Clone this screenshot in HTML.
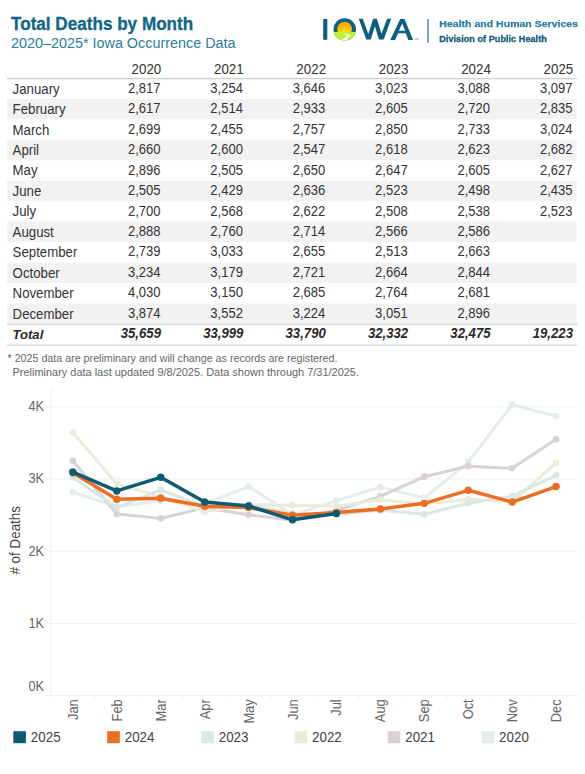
<!DOCTYPE html><html><head><meta charset="utf-8"><style>*{margin:0;padding:0}html,body{width:585px;height:774px;overflow:hidden;background:#fff}svg{display:block}</style></head><body><svg width="585" height="774" viewBox="0 0 585 774" font-family="'Liberation Sans', sans-serif">
<rect width="585" height="774" fill="#fff"/>
<text x="11.00" y="29.80" font-size="18.00" fill="#0f6587" font-weight="bold" textLength="182.20" lengthAdjust="spacingAndGlyphs" stroke="#0f6587" stroke-width="0.3">Total Deaths by Month</text>
<text x="11.00" y="47.60" font-size="14.00" fill="#2a7d9b" textLength="224.50" lengthAdjust="spacingAndGlyphs">2020–2025* Iowa Occurrence Data</text>
<rect x="7" y="98.96" width="570" height="20.46" fill="#f2f2f2"/>
<rect x="7" y="139.88" width="570" height="20.46" fill="#f2f2f2"/>
<rect x="7" y="180.80" width="570" height="20.46" fill="#f2f2f2"/>
<rect x="7" y="221.72" width="570" height="20.46" fill="#f2f2f2"/>
<rect x="7" y="262.64" width="570" height="20.46" fill="#f2f2f2"/>
<rect x="7" y="303.56" width="570" height="20.46" fill="#f2f2f2"/>
<text x="161.30" y="73.80" font-size="14.00" fill="#333" text-anchor="end" textLength="29.74" lengthAdjust="spacingAndGlyphs">2020</text>
<text x="243.70" y="73.80" font-size="14.00" fill="#333" text-anchor="end" textLength="29.74" lengthAdjust="spacingAndGlyphs">2021</text>
<text x="326.10" y="73.80" font-size="14.00" fill="#333" text-anchor="end" textLength="29.74" lengthAdjust="spacingAndGlyphs">2022</text>
<text x="408.50" y="73.80" font-size="14.00" fill="#333" text-anchor="end" textLength="29.74" lengthAdjust="spacingAndGlyphs">2023</text>
<text x="490.90" y="73.80" font-size="14.00" fill="#333" text-anchor="end" textLength="29.74" lengthAdjust="spacingAndGlyphs">2024</text>
<text x="573.30" y="73.80" font-size="14.00" fill="#333" text-anchor="end" textLength="29.74" lengthAdjust="spacingAndGlyphs">2025</text>
<rect x="7" y="77.9" width="570.5" height="1.4" fill="#d2d2d2"/>
<text x="12.60" y="93.60" font-size="14.00" fill="#333" textLength="47.07" lengthAdjust="spacingAndGlyphs">January</text>
<text x="160.50" y="92.80" font-size="14.50" fill="#333" text-anchor="end" textLength="32.58" lengthAdjust="spacingAndGlyphs">2,817</text>
<text x="242.90" y="92.80" font-size="14.50" fill="#333" text-anchor="end" textLength="32.58" lengthAdjust="spacingAndGlyphs">3,254</text>
<text x="325.30" y="92.80" font-size="14.50" fill="#333" text-anchor="end" textLength="32.58" lengthAdjust="spacingAndGlyphs">3,646</text>
<text x="407.70" y="92.80" font-size="14.50" fill="#333" text-anchor="end" textLength="32.58" lengthAdjust="spacingAndGlyphs">3,023</text>
<text x="490.10" y="92.80" font-size="14.50" fill="#333" text-anchor="end" textLength="32.58" lengthAdjust="spacingAndGlyphs">3,088</text>
<text x="572.50" y="92.80" font-size="14.50" fill="#333" text-anchor="end" textLength="32.58" lengthAdjust="spacingAndGlyphs">3,097</text>
<text x="12.60" y="114.06" font-size="14.00" fill="#333" textLength="52.94" lengthAdjust="spacingAndGlyphs">February</text>
<text x="160.50" y="113.26" font-size="14.50" fill="#333" text-anchor="end" textLength="32.58" lengthAdjust="spacingAndGlyphs">2,617</text>
<text x="242.90" y="113.26" font-size="14.50" fill="#333" text-anchor="end" textLength="32.58" lengthAdjust="spacingAndGlyphs">2,514</text>
<text x="325.30" y="113.26" font-size="14.50" fill="#333" text-anchor="end" textLength="32.58" lengthAdjust="spacingAndGlyphs">2,933</text>
<text x="407.70" y="113.26" font-size="14.50" fill="#333" text-anchor="end" textLength="32.58" lengthAdjust="spacingAndGlyphs">2,605</text>
<text x="490.10" y="113.26" font-size="14.50" fill="#333" text-anchor="end" textLength="32.58" lengthAdjust="spacingAndGlyphs">2,720</text>
<text x="572.50" y="113.26" font-size="14.50" fill="#333" text-anchor="end" textLength="32.58" lengthAdjust="spacingAndGlyphs">2,835</text>
<text x="12.60" y="134.52" font-size="14.00" fill="#333" textLength="36.76" lengthAdjust="spacingAndGlyphs">March</text>
<text x="160.50" y="133.72" font-size="14.50" fill="#333" text-anchor="end" textLength="32.58" lengthAdjust="spacingAndGlyphs">2,699</text>
<text x="242.90" y="133.72" font-size="14.50" fill="#333" text-anchor="end" textLength="32.58" lengthAdjust="spacingAndGlyphs">2,455</text>
<text x="325.30" y="133.72" font-size="14.50" fill="#333" text-anchor="end" textLength="32.58" lengthAdjust="spacingAndGlyphs">2,757</text>
<text x="407.70" y="133.72" font-size="14.50" fill="#333" text-anchor="end" textLength="32.58" lengthAdjust="spacingAndGlyphs">2,850</text>
<text x="490.10" y="133.72" font-size="14.50" fill="#333" text-anchor="end" textLength="32.58" lengthAdjust="spacingAndGlyphs">2,733</text>
<text x="572.50" y="133.72" font-size="14.50" fill="#333" text-anchor="end" textLength="32.58" lengthAdjust="spacingAndGlyphs">3,024</text>
<text x="12.60" y="154.98" font-size="14.00" fill="#333" textLength="26.47" lengthAdjust="spacingAndGlyphs">April</text>
<text x="160.50" y="154.18" font-size="14.50" fill="#333" text-anchor="end" textLength="32.58" lengthAdjust="spacingAndGlyphs">2,660</text>
<text x="242.90" y="154.18" font-size="14.50" fill="#333" text-anchor="end" textLength="32.58" lengthAdjust="spacingAndGlyphs">2,600</text>
<text x="325.30" y="154.18" font-size="14.50" fill="#333" text-anchor="end" textLength="32.58" lengthAdjust="spacingAndGlyphs">2,547</text>
<text x="407.70" y="154.18" font-size="14.50" fill="#333" text-anchor="end" textLength="32.58" lengthAdjust="spacingAndGlyphs">2,618</text>
<text x="490.10" y="154.18" font-size="14.50" fill="#333" text-anchor="end" textLength="32.58" lengthAdjust="spacingAndGlyphs">2,623</text>
<text x="572.50" y="154.18" font-size="14.50" fill="#333" text-anchor="end" textLength="32.58" lengthAdjust="spacingAndGlyphs">2,682</text>
<text x="12.60" y="175.44" font-size="14.00" fill="#333" textLength="24.99" lengthAdjust="spacingAndGlyphs">May</text>
<text x="160.50" y="174.64" font-size="14.50" fill="#333" text-anchor="end" textLength="32.58" lengthAdjust="spacingAndGlyphs">2,896</text>
<text x="242.90" y="174.64" font-size="14.50" fill="#333" text-anchor="end" textLength="32.58" lengthAdjust="spacingAndGlyphs">2,505</text>
<text x="325.30" y="174.64" font-size="14.50" fill="#333" text-anchor="end" textLength="32.58" lengthAdjust="spacingAndGlyphs">2,650</text>
<text x="407.70" y="174.64" font-size="14.50" fill="#333" text-anchor="end" textLength="32.58" lengthAdjust="spacingAndGlyphs">2,647</text>
<text x="490.10" y="174.64" font-size="14.50" fill="#333" text-anchor="end" textLength="32.58" lengthAdjust="spacingAndGlyphs">2,605</text>
<text x="572.50" y="174.64" font-size="14.50" fill="#333" text-anchor="end" textLength="32.58" lengthAdjust="spacingAndGlyphs">2,627</text>
<text x="12.60" y="195.90" font-size="14.00" fill="#333" textLength="28.69" lengthAdjust="spacingAndGlyphs">June</text>
<text x="160.50" y="195.10" font-size="14.50" fill="#333" text-anchor="end" textLength="32.58" lengthAdjust="spacingAndGlyphs">2,505</text>
<text x="242.90" y="195.10" font-size="14.50" fill="#333" text-anchor="end" textLength="32.58" lengthAdjust="spacingAndGlyphs">2,429</text>
<text x="325.30" y="195.10" font-size="14.50" fill="#333" text-anchor="end" textLength="32.58" lengthAdjust="spacingAndGlyphs">2,636</text>
<text x="407.70" y="195.10" font-size="14.50" fill="#333" text-anchor="end" textLength="32.58" lengthAdjust="spacingAndGlyphs">2,523</text>
<text x="490.10" y="195.10" font-size="14.50" fill="#333" text-anchor="end" textLength="32.58" lengthAdjust="spacingAndGlyphs">2,498</text>
<text x="572.50" y="195.10" font-size="14.50" fill="#333" text-anchor="end" textLength="32.58" lengthAdjust="spacingAndGlyphs">2,435</text>
<text x="12.60" y="216.36" font-size="14.00" fill="#333" textLength="23.53" lengthAdjust="spacingAndGlyphs">July</text>
<text x="160.50" y="215.56" font-size="14.50" fill="#333" text-anchor="end" textLength="32.58" lengthAdjust="spacingAndGlyphs">2,700</text>
<text x="242.90" y="215.56" font-size="14.50" fill="#333" text-anchor="end" textLength="32.58" lengthAdjust="spacingAndGlyphs">2,568</text>
<text x="325.30" y="215.56" font-size="14.50" fill="#333" text-anchor="end" textLength="32.58" lengthAdjust="spacingAndGlyphs">2,622</text>
<text x="407.70" y="215.56" font-size="14.50" fill="#333" text-anchor="end" textLength="32.58" lengthAdjust="spacingAndGlyphs">2,508</text>
<text x="490.10" y="215.56" font-size="14.50" fill="#333" text-anchor="end" textLength="32.58" lengthAdjust="spacingAndGlyphs">2,538</text>
<text x="572.50" y="215.56" font-size="14.50" fill="#333" text-anchor="end" textLength="32.58" lengthAdjust="spacingAndGlyphs">2,523</text>
<text x="12.60" y="236.82" font-size="14.00" fill="#333" textLength="41.19" lengthAdjust="spacingAndGlyphs">August</text>
<text x="160.50" y="236.02" font-size="14.50" fill="#333" text-anchor="end" textLength="32.58" lengthAdjust="spacingAndGlyphs">2,888</text>
<text x="242.90" y="236.02" font-size="14.50" fill="#333" text-anchor="end" textLength="32.58" lengthAdjust="spacingAndGlyphs">2,760</text>
<text x="325.30" y="236.02" font-size="14.50" fill="#333" text-anchor="end" textLength="32.58" lengthAdjust="spacingAndGlyphs">2,714</text>
<text x="407.70" y="236.02" font-size="14.50" fill="#333" text-anchor="end" textLength="32.58" lengthAdjust="spacingAndGlyphs">2,566</text>
<text x="490.10" y="236.02" font-size="14.50" fill="#333" text-anchor="end" textLength="32.58" lengthAdjust="spacingAndGlyphs">2,586</text>
<text x="12.60" y="257.28" font-size="14.00" fill="#333" textLength="64.72" lengthAdjust="spacingAndGlyphs">September</text>
<text x="160.50" y="256.48" font-size="14.50" fill="#333" text-anchor="end" textLength="32.58" lengthAdjust="spacingAndGlyphs">2,739</text>
<text x="242.90" y="256.48" font-size="14.50" fill="#333" text-anchor="end" textLength="32.58" lengthAdjust="spacingAndGlyphs">3,033</text>
<text x="325.30" y="256.48" font-size="14.50" fill="#333" text-anchor="end" textLength="32.58" lengthAdjust="spacingAndGlyphs">2,655</text>
<text x="407.70" y="256.48" font-size="14.50" fill="#333" text-anchor="end" textLength="32.58" lengthAdjust="spacingAndGlyphs">2,513</text>
<text x="490.10" y="256.48" font-size="14.50" fill="#333" text-anchor="end" textLength="32.58" lengthAdjust="spacingAndGlyphs">2,663</text>
<text x="12.60" y="277.74" font-size="14.00" fill="#333" textLength="47.06" lengthAdjust="spacingAndGlyphs">October</text>
<text x="160.50" y="276.94" font-size="14.50" fill="#333" text-anchor="end" textLength="32.58" lengthAdjust="spacingAndGlyphs">3,234</text>
<text x="242.90" y="276.94" font-size="14.50" fill="#333" text-anchor="end" textLength="32.58" lengthAdjust="spacingAndGlyphs">3,179</text>
<text x="325.30" y="276.94" font-size="14.50" fill="#333" text-anchor="end" textLength="32.58" lengthAdjust="spacingAndGlyphs">2,721</text>
<text x="407.70" y="276.94" font-size="14.50" fill="#333" text-anchor="end" textLength="32.58" lengthAdjust="spacingAndGlyphs">2,664</text>
<text x="490.10" y="276.94" font-size="14.50" fill="#333" text-anchor="end" textLength="32.58" lengthAdjust="spacingAndGlyphs">2,844</text>
<text x="12.60" y="298.20" font-size="14.00" fill="#333" textLength="61.03" lengthAdjust="spacingAndGlyphs">November</text>
<text x="160.50" y="297.40" font-size="14.50" fill="#333" text-anchor="end" textLength="32.58" lengthAdjust="spacingAndGlyphs">4,030</text>
<text x="242.90" y="297.40" font-size="14.50" fill="#333" text-anchor="end" textLength="32.58" lengthAdjust="spacingAndGlyphs">3,150</text>
<text x="325.30" y="297.40" font-size="14.50" fill="#333" text-anchor="end" textLength="32.58" lengthAdjust="spacingAndGlyphs">2,685</text>
<text x="407.70" y="297.40" font-size="14.50" fill="#333" text-anchor="end" textLength="32.58" lengthAdjust="spacingAndGlyphs">2,764</text>
<text x="490.10" y="297.40" font-size="14.50" fill="#333" text-anchor="end" textLength="32.58" lengthAdjust="spacingAndGlyphs">2,681</text>
<text x="12.60" y="318.66" font-size="14.00" fill="#333" textLength="61.03" lengthAdjust="spacingAndGlyphs">December</text>
<text x="160.50" y="317.86" font-size="14.50" fill="#333" text-anchor="end" textLength="32.58" lengthAdjust="spacingAndGlyphs">3,874</text>
<text x="242.90" y="317.86" font-size="14.50" fill="#333" text-anchor="end" textLength="32.58" lengthAdjust="spacingAndGlyphs">3,552</text>
<text x="325.30" y="317.86" font-size="14.50" fill="#333" text-anchor="end" textLength="32.58" lengthAdjust="spacingAndGlyphs">3,224</text>
<text x="407.70" y="317.86" font-size="14.50" fill="#333" text-anchor="end" textLength="32.58" lengthAdjust="spacingAndGlyphs">3,051</text>
<text x="490.10" y="317.86" font-size="14.50" fill="#333" text-anchor="end" textLength="32.58" lengthAdjust="spacingAndGlyphs">2,896</text>
<rect x="7" y="323.9" width="570.5" height="1.3" fill="#d8d8d8"/>
<rect x="7" y="344.6" width="570.5" height="1.3" fill="#d8d8d8"/>
<text x="12.50" y="338.60" font-size="13.50" fill="#2a2a2a" font-weight="bold" font-style="italic" textLength="30.79" lengthAdjust="spacingAndGlyphs">Total</text>
<text x="161.00" y="338.30" font-size="14.20" fill="#2a2a2a" font-weight="bold" font-style="italic" text-anchor="end" textLength="40.26" lengthAdjust="spacingAndGlyphs">35,659</text>
<text x="243.40" y="338.30" font-size="14.20" fill="#2a2a2a" font-weight="bold" font-style="italic" text-anchor="end" textLength="40.26" lengthAdjust="spacingAndGlyphs">33,999</text>
<text x="325.80" y="338.30" font-size="14.20" fill="#2a2a2a" font-weight="bold" font-style="italic" text-anchor="end" textLength="40.26" lengthAdjust="spacingAndGlyphs">33,790</text>
<text x="408.20" y="338.30" font-size="14.20" fill="#2a2a2a" font-weight="bold" font-style="italic" text-anchor="end" textLength="40.26" lengthAdjust="spacingAndGlyphs">32,332</text>
<text x="490.60" y="338.30" font-size="14.20" fill="#2a2a2a" font-weight="bold" font-style="italic" text-anchor="end" textLength="40.26" lengthAdjust="spacingAndGlyphs">32,475</text>
<text x="573.00" y="338.30" font-size="14.20" fill="#2a2a2a" font-weight="bold" font-style="italic" text-anchor="end" textLength="40.26" lengthAdjust="spacingAndGlyphs">19,223</text>
<text x="7.50" y="361.50" font-size="10.70" fill="#666" textLength="330.00" lengthAdjust="spacingAndGlyphs">* 2025 data are preliminary and will change as records are registered.</text>
<text x="12.50" y="375.50" font-size="10.70" fill="#666" textLength="346.50" lengthAdjust="spacingAndGlyphs">Preliminary data last updated 9/8/2025. Data shown through 7/31/2025.</text>
<line x1="45.5" y1="695.50" x2="578" y2="695.50" stroke="#efefef" stroke-width="1"/>
<text x="44.00" y="690.80" font-size="14.00" fill="#666" text-anchor="end" textLength="15.60" lengthAdjust="spacingAndGlyphs">0K</text>
<line x1="45.5" y1="623.35" x2="578" y2="623.35" stroke="#efefef" stroke-width="1"/>
<text x="44.00" y="627.65" font-size="14.00" fill="#666" text-anchor="end" textLength="15.60" lengthAdjust="spacingAndGlyphs">1K</text>
<line x1="45.5" y1="551.20" x2="578" y2="551.20" stroke="#efefef" stroke-width="1"/>
<text x="44.00" y="555.50" font-size="14.00" fill="#666" text-anchor="end" textLength="15.60" lengthAdjust="spacingAndGlyphs">2K</text>
<line x1="45.5" y1="479.05" x2="578" y2="479.05" stroke="#efefef" stroke-width="1"/>
<text x="44.00" y="483.35" font-size="14.00" fill="#666" text-anchor="end" textLength="15.60" lengthAdjust="spacingAndGlyphs">3K</text>
<line x1="45.5" y1="406.90" x2="578" y2="406.90" stroke="#efefef" stroke-width="1"/>
<text x="44.00" y="411.20" font-size="14.00" fill="#666" text-anchor="end" textLength="15.60" lengthAdjust="spacingAndGlyphs">4K</text>
<line x1="51" y1="388" x2="51" y2="698" stroke="#efefef" stroke-width="1"/>
<line x1="94.83" y1="695.5" x2="94.83" y2="699" stroke="#efefef" stroke-width="1"/>
<line x1="138.76" y1="695.5" x2="138.76" y2="699" stroke="#efefef" stroke-width="1"/>
<line x1="182.69" y1="695.5" x2="182.69" y2="699" stroke="#efefef" stroke-width="1"/>
<line x1="226.62" y1="695.5" x2="226.62" y2="699" stroke="#efefef" stroke-width="1"/>
<line x1="270.55" y1="695.5" x2="270.55" y2="699" stroke="#efefef" stroke-width="1"/>
<line x1="314.48" y1="695.5" x2="314.48" y2="699" stroke="#efefef" stroke-width="1"/>
<line x1="358.41" y1="695.5" x2="358.41" y2="699" stroke="#efefef" stroke-width="1"/>
<line x1="402.34" y1="695.5" x2="402.34" y2="699" stroke="#efefef" stroke-width="1"/>
<line x1="446.27" y1="695.5" x2="446.27" y2="699" stroke="#efefef" stroke-width="1"/>
<line x1="490.20" y1="695.5" x2="490.20" y2="699" stroke="#efefef" stroke-width="1"/>
<line x1="534.13" y1="695.5" x2="534.13" y2="699" stroke="#efefef" stroke-width="1"/>
<line x1="578.06" y1="695.5" x2="578.06" y2="699" stroke="#efefef" stroke-width="1"/>
<text x="0.00" y="0.00" font-size="14.00" fill="#666" text-anchor="end" transform="translate(77.86,699.3) rotate(-90) scale(0.92,1)">Jan</text>
<text x="0.00" y="0.00" font-size="14.00" fill="#666" text-anchor="end" transform="translate(121.79,699.3) rotate(-90) scale(0.92,1)">Feb</text>
<text x="0.00" y="0.00" font-size="14.00" fill="#666" text-anchor="end" transform="translate(165.72,699.3) rotate(-90) scale(0.92,1)">Mar</text>
<text x="0.00" y="0.00" font-size="14.00" fill="#666" text-anchor="end" transform="translate(209.66,699.3) rotate(-90) scale(0.92,1)">Apr</text>
<text x="0.00" y="0.00" font-size="14.00" fill="#666" text-anchor="end" transform="translate(253.59,699.3) rotate(-90) scale(0.92,1)">May</text>
<text x="0.00" y="0.00" font-size="14.00" fill="#666" text-anchor="end" transform="translate(297.51,699.3) rotate(-90) scale(0.92,1)">Jun</text>
<text x="0.00" y="0.00" font-size="14.00" fill="#666" text-anchor="end" transform="translate(341.44,699.3) rotate(-90) scale(0.92,1)">Jul</text>
<text x="0.00" y="0.00" font-size="14.00" fill="#666" text-anchor="end" transform="translate(385.38,699.3) rotate(-90) scale(0.92,1)">Aug</text>
<text x="0.00" y="0.00" font-size="14.00" fill="#666" text-anchor="end" transform="translate(429.30,699.3) rotate(-90) scale(0.92,1)">Sep</text>
<text x="0.00" y="0.00" font-size="14.00" fill="#666" text-anchor="end" transform="translate(473.23,699.3) rotate(-90) scale(0.92,1)">Oct</text>
<text x="0.00" y="0.00" font-size="14.00" fill="#666" text-anchor="end" transform="translate(517.16,699.3) rotate(-90) scale(0.92,1)">Nov</text>
<text x="0.00" y="0.00" font-size="14.00" fill="#666" text-anchor="end" transform="translate(561.10,699.3) rotate(-90) scale(0.92,1)">Dec</text>
<text x="0.00" y="0.00" font-size="14.30" fill="#444" text-anchor="middle" textLength="68.50" lengthAdjust="spacingAndGlyphs" transform="translate(20.2,540.3) rotate(-90)"># of Deaths</text>
<polyline points="72.86,492.25 116.79,506.68 160.72,500.77 204.66,503.58 248.59,486.55 292.51,514.76 336.44,500.69 380.38,487.13 424.30,497.88 468.23,462.17 512.16,404.74 556.10,415.99" fill="none" stroke="#e3eeec" stroke-width="3.00" stroke-linejoin="round"/>
<circle cx="72.86" cy="492.25" r="3.30" fill="#e3eeec"/>
<circle cx="116.79" cy="506.68" r="3.30" fill="#e3eeec"/>
<circle cx="160.72" cy="500.77" r="3.30" fill="#e3eeec"/>
<circle cx="204.66" cy="503.58" r="3.30" fill="#e3eeec"/>
<circle cx="248.59" cy="486.55" r="3.30" fill="#e3eeec"/>
<circle cx="292.51" cy="514.76" r="3.30" fill="#e3eeec"/>
<circle cx="336.44" cy="500.69" r="3.30" fill="#e3eeec"/>
<circle cx="380.38" cy="487.13" r="3.30" fill="#e3eeec"/>
<circle cx="424.30" cy="497.88" r="3.30" fill="#e3eeec"/>
<circle cx="468.23" cy="462.17" r="3.30" fill="#e3eeec"/>
<circle cx="512.16" cy="404.74" r="3.30" fill="#e3eeec"/>
<circle cx="556.10" cy="415.99" r="3.30" fill="#e3eeec"/>
<polyline points="72.86,460.72 116.79,514.11 160.72,518.37 204.66,507.91 248.59,514.76 292.51,520.25 336.44,510.22 380.38,496.37 424.30,476.67 468.23,466.14 512.16,468.23 556.10,439.22" fill="none" stroke="#d8d2d7" stroke-width="3.00" stroke-linejoin="round"/>
<circle cx="72.86" cy="460.72" r="3.30" fill="#d8d2d7"/>
<circle cx="116.79" cy="514.11" r="3.30" fill="#d8d2d7"/>
<circle cx="160.72" cy="518.37" r="3.30" fill="#d8d2d7"/>
<circle cx="204.66" cy="507.91" r="3.30" fill="#d8d2d7"/>
<circle cx="248.59" cy="514.76" r="3.30" fill="#d8d2d7"/>
<circle cx="292.51" cy="520.25" r="3.30" fill="#d8d2d7"/>
<circle cx="336.44" cy="510.22" r="3.30" fill="#d8d2d7"/>
<circle cx="380.38" cy="496.37" r="3.30" fill="#d8d2d7"/>
<circle cx="424.30" cy="476.67" r="3.30" fill="#d8d2d7"/>
<circle cx="468.23" cy="466.14" r="3.30" fill="#d8d2d7"/>
<circle cx="512.16" cy="468.23" r="3.30" fill="#d8d2d7"/>
<circle cx="556.10" cy="439.22" r="3.30" fill="#d8d2d7"/>
<polyline points="72.86,432.44 116.79,483.88 160.72,496.58 204.66,511.73 248.59,504.30 292.51,505.31 336.44,506.32 380.38,499.68 424.30,503.94 468.23,499.18 512.16,501.78 556.10,462.89" fill="none" stroke="#e9ecd8" stroke-width="3.00" stroke-linejoin="round"/>
<circle cx="72.86" cy="432.44" r="3.30" fill="#e9ecd8"/>
<circle cx="116.79" cy="483.88" r="3.30" fill="#e9ecd8"/>
<circle cx="160.72" cy="496.58" r="3.30" fill="#e9ecd8"/>
<circle cx="204.66" cy="511.73" r="3.30" fill="#e9ecd8"/>
<circle cx="248.59" cy="504.30" r="3.30" fill="#e9ecd8"/>
<circle cx="292.51" cy="505.31" r="3.30" fill="#e9ecd8"/>
<circle cx="336.44" cy="506.32" r="3.30" fill="#e9ecd8"/>
<circle cx="380.38" cy="499.68" r="3.30" fill="#e9ecd8"/>
<circle cx="424.30" cy="503.94" r="3.30" fill="#e9ecd8"/>
<circle cx="468.23" cy="499.18" r="3.30" fill="#e9ecd8"/>
<circle cx="512.16" cy="501.78" r="3.30" fill="#e9ecd8"/>
<circle cx="556.10" cy="462.89" r="3.30" fill="#e9ecd8"/>
<polyline points="72.86,477.39 116.79,507.55 160.72,489.87 204.66,506.61 248.59,504.52 292.51,513.47 336.44,514.55 380.38,510.36 424.30,514.19 468.23,503.29 512.16,496.08 556.10,475.37" fill="none" stroke="#d8e8e4" stroke-width="3.00" stroke-linejoin="round"/>
<circle cx="72.86" cy="477.39" r="3.30" fill="#d8e8e4"/>
<circle cx="116.79" cy="507.55" r="3.30" fill="#d8e8e4"/>
<circle cx="160.72" cy="489.87" r="3.30" fill="#d8e8e4"/>
<circle cx="204.66" cy="506.61" r="3.30" fill="#d8e8e4"/>
<circle cx="248.59" cy="504.52" r="3.30" fill="#d8e8e4"/>
<circle cx="292.51" cy="513.47" r="3.30" fill="#d8e8e4"/>
<circle cx="336.44" cy="514.55" r="3.30" fill="#d8e8e4"/>
<circle cx="380.38" cy="510.36" r="3.30" fill="#d8e8e4"/>
<circle cx="424.30" cy="514.19" r="3.30" fill="#d8e8e4"/>
<circle cx="468.23" cy="503.29" r="3.30" fill="#d8e8e4"/>
<circle cx="512.16" cy="496.08" r="3.30" fill="#d8e8e4"/>
<circle cx="556.10" cy="475.37" r="3.30" fill="#d8e8e4"/>
<polyline points="72.86,472.70 116.79,499.25 160.72,498.31 204.66,506.25 248.59,507.55 292.51,515.27 336.44,512.38 380.38,508.92 424.30,503.36 468.23,490.31 512.16,502.07 556.10,486.55" fill="none" stroke="#eb6e23" stroke-width="3.50" stroke-linejoin="round"/>
<circle cx="72.86" cy="472.70" r="3.70" fill="#eb6e23"/>
<circle cx="116.79" cy="499.25" r="3.70" fill="#eb6e23"/>
<circle cx="160.72" cy="498.31" r="3.70" fill="#eb6e23"/>
<circle cx="204.66" cy="506.25" r="3.70" fill="#eb6e23"/>
<circle cx="248.59" cy="507.55" r="3.70" fill="#eb6e23"/>
<circle cx="292.51" cy="515.27" r="3.70" fill="#eb6e23"/>
<circle cx="336.44" cy="512.38" r="3.70" fill="#eb6e23"/>
<circle cx="380.38" cy="508.92" r="3.70" fill="#eb6e23"/>
<circle cx="424.30" cy="503.36" r="3.70" fill="#eb6e23"/>
<circle cx="468.23" cy="490.31" r="3.70" fill="#eb6e23"/>
<circle cx="512.16" cy="502.07" r="3.70" fill="#eb6e23"/>
<circle cx="556.10" cy="486.55" r="3.70" fill="#eb6e23"/>
<polyline points="72.86,472.05 116.79,490.95 160.72,477.32 204.66,501.99 248.59,505.96 292.51,519.81 336.44,513.47" fill="none" stroke="#0d5a73" stroke-width="3.50" stroke-linejoin="round"/>
<circle cx="72.86" cy="472.05" r="3.70" fill="#0d5a73"/>
<circle cx="116.79" cy="490.95" r="3.70" fill="#0d5a73"/>
<circle cx="160.72" cy="477.32" r="3.70" fill="#0d5a73"/>
<circle cx="204.66" cy="501.99" r="3.70" fill="#0d5a73"/>
<circle cx="248.59" cy="505.96" r="3.70" fill="#0d5a73"/>
<circle cx="292.51" cy="519.81" r="3.70" fill="#0d5a73"/>
<circle cx="336.44" cy="513.47" r="3.70" fill="#0d5a73"/>
<rect x="13.30" y="731.2" width="12.6" height="12" fill="#0d5a73"/>
<text x="30.80" y="741.90" font-size="14.00" fill="#424242" textLength="29.80" lengthAdjust="spacingAndGlyphs">2025</text>
<rect x="107.20" y="731.2" width="12.6" height="12" fill="#eb6e23"/>
<text x="124.70" y="741.90" font-size="14.00" fill="#424242" textLength="29.80" lengthAdjust="spacingAndGlyphs">2024</text>
<rect x="201.20" y="731.2" width="12.6" height="12" fill="#d8e8e4"/>
<text x="218.70" y="741.90" font-size="14.00" fill="#424242" textLength="29.80" lengthAdjust="spacingAndGlyphs">2023</text>
<rect x="294.50" y="731.2" width="12.6" height="12" fill="#e9ecd8"/>
<text x="312.00" y="741.90" font-size="14.00" fill="#424242" textLength="29.80" lengthAdjust="spacingAndGlyphs">2022</text>
<rect x="387.70" y="731.2" width="12.6" height="12" fill="#d8d2d7"/>
<text x="405.20" y="741.90" font-size="14.00" fill="#424242" textLength="29.80" lengthAdjust="spacingAndGlyphs">2021</text>
<rect x="481.60" y="731.2" width="12.6" height="12" fill="#e3eeec"/>
<text x="499.10" y="741.90" font-size="14.00" fill="#424242" textLength="29.80" lengthAdjust="spacingAndGlyphs">2020</text>
<defs><filter id="bl" x="-5%" y="-20%" width="110%" height="140%"><feGaussianBlur stdDeviation="0.3"/></filter></defs><g filter="url(#bl)">
<rect x="323.2" y="19" width="4.1" height="20.8" fill="#0b5e80"/>
<defs><radialGradient id="sun" cx="0.5" cy="1" r="1"><stop offset="0" stop-color="#fff200"/><stop offset="0.5" stop-color="#f9cf00"/><stop offset="1" stop-color="#f0a000"/></radialGradient><clipPath id="oc"><circle cx="344.75" cy="29.4" r="11.2"/></clipPath></defs>
<circle cx="344.75" cy="29.4" r="11.2" fill="#0b5e80"/>
<circle cx="344.6" cy="29.1" r="7.4" fill="url(#sun)"/>
<rect x="333" y="31.9" width="24" height="10" fill="#bdf22e" clip-path="url(#oc)"/>
<path d="M339.6 41.5 L347.6 35.9 Q345.5 34.4 342.6 33.3 Q347.5 33.8 350.7 34.9 L345.3 41.5 Z" fill="#fff" clip-path="url(#oc)"/>
<path d="M358.7 18.8 L362.8 18.8 L368.35 34 L373.1 18.8 L376.9 18.8 L381.45 33.8 L387.1 18.8 L391.2 18.8 L383.7 39.6 L378.9 39.6 L374.9 26.3 L370.7 39.6 L366.3 39.6 Z" fill="#0b5e80"/>
<path d="M390.3 40 L400.2 18.9 L404.5 18.9 L413.1 40 L408.4 40 L405.7 33.3 L398.1 33.3 L395 40 Z M398.8 30.7 L405.2 30.7 L402.2 23.4 Z" fill="#0b5e80" fill-rule="evenodd"/>
<rect x="414.7" y="38.4" width="4.3" height="1.2" fill="#8fb5c5"/>
<rect x="427.2" y="19.1" width="1.5" height="23.6" fill="#4a8eab"/>
<text x="439.30" y="26.50" font-size="9.60" fill="#2b7ca0" font-weight="bold" textLength="138.80" lengthAdjust="spacingAndGlyphs" stroke="#2b7ca0" stroke-width="0.25">Health and Human Services</text>
<text x="439.30" y="41.90" font-size="8.80" fill="#1b6080" font-weight="bold" textLength="107.50" lengthAdjust="spacingAndGlyphs" stroke="#1b6080" stroke-width="0.35">Division of Public Health</text>
</g></svg></body></html>
